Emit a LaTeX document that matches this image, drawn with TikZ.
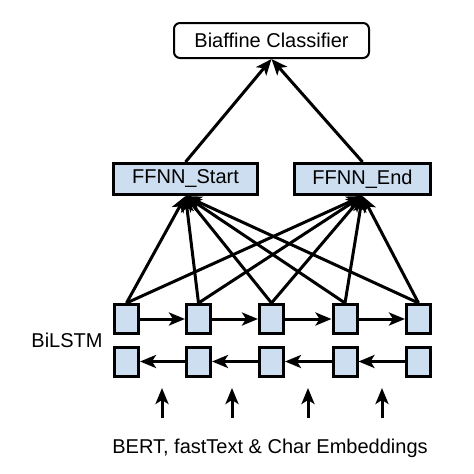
\documentclass[tikz,border=0pt]{standalone}
\usepackage{fontspec}
\setmainfont{Liberation Sans}
\usetikzlibrary{arrows.meta}
\definecolor{boxblue}{RGB}{204,222,240}

\begin{document}
\begin{tikzpicture}[x=1pt, y=-1pt,
    every node/.style={font=\fontsize{20}{24}\selectfont},
    ffnn/.style={draw, line width=3pt, fill=boxblue, minimum height=31pt, inner sep=0pt},
    cell/.style={draw, line width=3pt, fill=boxblue, minimum width=24pt, minimum height=29pt, inner sep=0pt},
    link/.style={line width=3pt, -{Stealth[length=16pt, width=13pt, inset=4pt]}}]
        \useasboundingbox (0,0) rectangle (474,474);
        % output layer
        \node[draw, rounded corners=6pt, line width=2pt, minimum width=195pt, minimum height=35pt, inner sep=0pt] (clf) at (271.5,40.5) {Biaffine Classifier};
        \node[ffnn, minimum width=144pt] (fs) at (185.5,179) {FFNN\_Start};
        \node[ffnn, minimum width=136pt] (fe) at (362.5,179) {FFNN\_End};
        \draw[link] (fs.north) -- (clf.south);
        \draw[link] (fe.north) -- (clf.south);
        % BiLSTM cells
        \foreach \i/\x in {1/126.5, 2/198.5, 3/271.5, 4/345, 5/418.5} {
            \node[cell] (f\i) at (\x,319) {};
            \node[cell] (b\i) at (\x,361.5) {};
        }
        \foreach \i in {1,...,5} {
            \draw[link] (f\i.north) -- (fs.south);
            \draw[link] (f\i.north) -- (fe.south);
        }
        \foreach \i/\j in {1/2, 2/3, 3/4, 4/5} {
            \draw[link] (f\i) -- (f\j);
            \draw[link] (b\j) -- (b\i);
        }
        \node (lstm) at (67,340) {BiLSTM};
        % inputs
        \foreach \i/\x in {1/162, 2/232, 3/308, 4/382} {
            \coordinate (in\i) at (\x,418);
            \coordinate (up\i) at (\x,388);
            \draw[link] (in\i) -- (up\i);
        }
        \node (emb) at (270,448) {BERT, fastText \& Char Embeddings};
\end{tikzpicture}
\end{document}
